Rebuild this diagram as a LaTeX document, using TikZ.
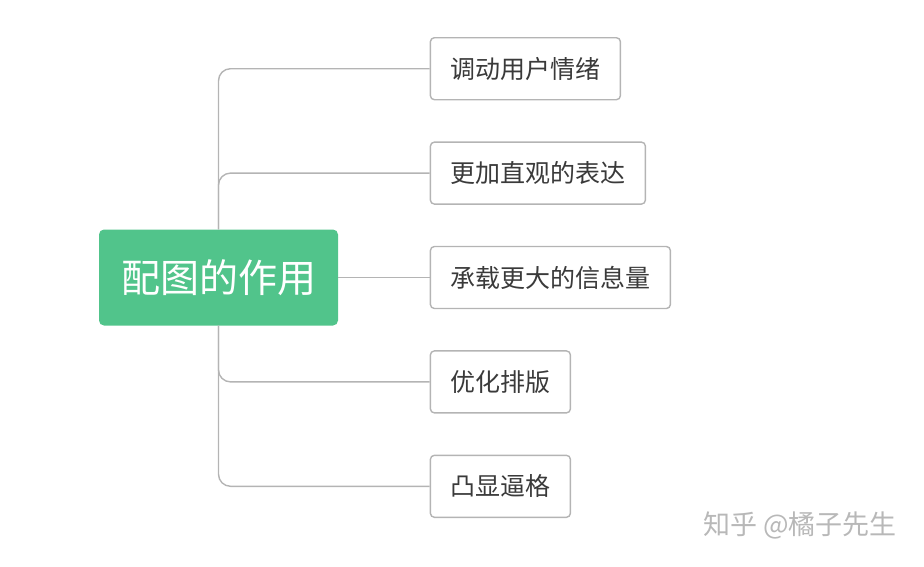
\documentclass[tikz,border=0pt]{standalone}
\usepackage{fontspec}
\setmainfont{Noto Sans CJK SC}
\usetikzlibrary{positioning}

\definecolor{mapgreen}{HTML}{51C48B}
\definecolor{linegray}{HTML}{B4B4B4}
\definecolor{txtgray}{HTML}{3A3A3A}
\definecolor{markgray}{HTML}{B8B8B8}

\begin{document}
\begin{tikzpicture}[
  node distance=41pt and 91.5pt,
  topic/.style={fill=mapgreen, rounded corners=5pt, text=white, minimum width=239pt, minimum height=96pt,
                font=\fontsize{39}{44}\selectfont},
  leaf/.style={draw=linegray, line width=1.4pt, rounded corners=4pt, fill=white, text=txtgray,
               minimum height=62pt, inner xsep=20pt, font=\fontsize{25}{30}\selectfont},
  link/.style={draw=linegray, line width=1.4pt, rounded corners=12pt}
]
\useasboundingbox (0,0) rectangle (924pt,-566pt);

% central topic
\node[topic] (cen) at (218.5pt,-277.5pt) {配图的作用};

% branches, middle one first
\node[leaf, right=of cen] (load) {承载更大的信息量};
\node[leaf, above=of load.north west, anchor=south west] (clear) {更加直观的表达};
\node[leaf, above=of clear.north west, anchor=south west] (mood) {调动用户情绪};
\node[leaf, below=of load.south west, anchor=north west] (layout) {优化排版};
\node[leaf, below=of layout.south west, anchor=north west] (style) {凸显逼格};

% connectors
\draw[link] (cen.north) |- (mood.west);
\draw[link] (cen.north) |- (clear.west);
\draw[link] (cen.east) -- (load.west);
\draw[link] (cen.south) |- (layout.west);
\draw[link] (cen.south) |- (style.west);

% watermark
\node[text=markgray, font=\fontsize{27}{31}\selectfont] (mark) at (800pt,-525pt) {知乎 @橘子先生};

\end{tikzpicture}
\end{document}
